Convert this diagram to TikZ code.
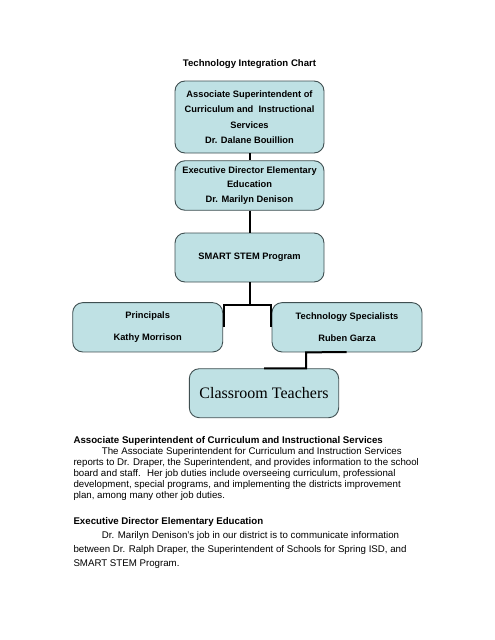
\documentclass[tikz,border=0pt]{standalone}
\usepackage{fontspec}
\setmainfont{Liberation Sans}
\newfontfamily\serifface{Liberation Serif}
\definecolor{boxfill}{HTML}{BFE1E4}
\definecolor{boxline}{HTML}{3F4F51}
\begin{document}
\begin{tikzpicture}[x=1pt,y=-1pt,
  orgbox/.style={draw=boxline, fill=boxfill, line width=0.9pt, rounded corners=10pt,
    inner sep=0pt, align=center, text=black},
  boxtext/.style={font=\bfseries\fontsize{9.3}{15.5}\selectfont},
  conn/.style={line width=2pt, black},
  bodyline/.style={anchor=base west, inner sep=0pt, font=\fontsize{9.7}{11}\selectfont},
  headline/.style={anchor=base west, inner sep=0pt, font=\bfseries\fontsize{9.7}{11}\selectfont}]
\useasboundingbox (0,0) rectangle (495,640);

\node[inner sep=0pt, font=\bfseries\fontsize{9.6}{11}\selectfont] (title) at (249.5,64) {Technology Integration Chart};

\node[orgbox, boxtext, minimum width=149pt, minimum height=72pt] (assoc) at (249.5,117)
  {Associate Superintendent of\\Curriculum and \ Instructional\\Services\\Dr. Dalane Bouillion};
\node[orgbox, font=\bfseries\fontsize{9.3}{14.2}\selectfont, minimum width=149pt, minimum height=49.5pt] (exec) at (249.5,185.5)
  {Executive Director Elementary\\Education\\Dr. Marilyn Denison};
\node[orgbox, boxtext, minimum width=149pt, minimum height=49pt] (smart) at (249.5,257.5)
  {SMART STEM Program};
\node[orgbox, font=\bfseries\fontsize{9.3}{21.6}\selectfont, minimum width=150pt, minimum height=49.3pt] (princ) at (147.7,327.3)
  {Principals\\Kathy Morrison};
\node[orgbox, font=\bfseries\fontsize{9.3}{21.6}\selectfont, minimum width=150pt, minimum height=49.3pt] (tech) at (347,327.3)
  {Technology Specialists\\Ruben Garza};
\node[orgbox, font=\serifface\fontsize{16}{18}\selectfont, minimum width=149.4pt, minimum height=49pt] (class) at (264,393.2)
  {Classroom Teachers};

\coordinate (bar) at (249.5,304.5);
\coordinate (drop) at (306,368);
\coordinate (techedge) at (346.7,352);

\draw[conn] (assoc.south) -- (exec.north);
\draw[conn] (exec.south) -- (smart.north);
\draw[conn] (smart.south) -- (bar);
\draw[conn] ([xshift=0.8pt]princ.east) -- ([xshift=0.8pt]princ.east |- bar) -- ([xshift=-0.8pt]tech.west |- bar) -- ([xshift=-0.8pt]tech.west);
\draw[conn] (class.north) -- (class.north -| drop) -- (drop) -- (drop |- tech.south) -- (techedge);

\node[headline] (h1) at (73.3,443) {Associate Superintendent of Curriculum and Instructional Services};
\node[bodyline] (p1a) at (101.7,454) {The Associate Superintendent for Curriculum and Instruction Services};
\node[bodyline] (p1b) at (73.3,465) {reports to Dr. Draper, the Superintendent, and provides information to the school};
\node[bodyline] (p1c) at (73.3,476) {board and staff. \ Her job duties include overseeing curriculum, professional};
\node[bodyline] (p1d) at (73.3,487) {development, special programs, and implementing the districts improvement};
\node[bodyline] (p1e) at (73.3,498) {plan, among many other job duties.};

\node[headline] (h2) at (73.3,524) {Executive Director Elementary Education};
\node[bodyline] (p2a) at (101.7,538.5) {Dr. Marilyn Denison's job in our district is to communicate information};
\node[bodyline] (p2b) at (73.3,552.8) {between Dr. Ralph Draper, the Superintendent of Schools for Spring ISD, and};
\node[bodyline] (p2c) at (73.3,566.2) {SMART STEM Program.};
\end{tikzpicture}
\end{document}
